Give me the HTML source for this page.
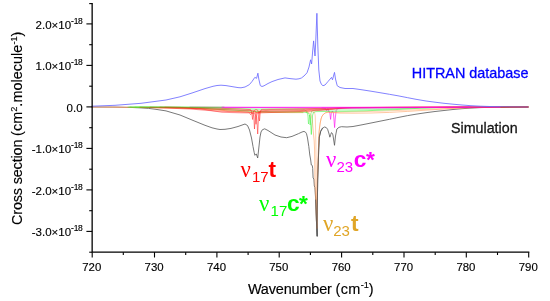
<!DOCTYPE html>
<html lang="en">
<head>
<meta charset="utf-8">
<title>Cross section vs wavenumber</title>
<style>
html,body{margin:0;padding:0;background:#fff;}
body{width:550px;height:301px;overflow:hidden;}
svg text{white-space:pre;}
</style>
</head>
<body>
<svg width="550" height="301" viewBox="0 0 550 301" style="display:block">
<rect width="550" height="301" fill="#fff"/>
<g fill="none" stroke-linejoin="round" stroke-linecap="round">
<path d="M92.0,107.0 L115.0,107.1 L130.0,107.4 L141.0,107.9 L148.5,108.4 L155.0,109.2 L166.0,110.9 L180.0,115.0 L192.0,120.0 L205.0,125.3 L212.0,127.8 L217.0,129.0 L220.0,129.5 L225.0,129.3 L231.0,128.4 L238.0,126.5 L245.0,124.0 L247.5,125.5 L249.5,130.0 L251.5,138.0 L253.0,146.5 L254.2,152.5 L254.9,155.3 L255.6,154.4 L256.3,154.0 L257.0,156.0 L257.7,158.0 L258.6,150.0 L260.0,137.0 L261.0,132.0 L262.3,129.8 L264.7,128.8 L268.0,130.5 L275.0,135.0 L281.0,137.0 L286.7,137.7 L292.0,136.4 L298.4,133.7 L302.0,132.0 L304.0,131.4 L305.5,132.2 L306.5,133.7 L307.5,138.0 L308.8,146.5 L309.8,155.0 L310.7,160.0 L311.3,165.0 L312.3,165.5 L312.7,168.5 L313.1,178.0 L313.9,179.0 L314.3,186.0 L314.9,187.5 L315.7,200.0 L316.4,220.0 L317.2,236.3 L317.1,225.0 L317.2,210.0 L317.4,200.0 L317.7,180.0 L318.2,165.0 L318.7,150.0 L319.3,137.0 L320.7,131.3 L322.5,128.2 L324.5,127.0 L326.3,127.6 L327.6,129.3 L328.8,133.0 L329.9,137.2 L330.7,134.5 L331.5,132.6 L332.2,133.2 L332.9,134.9 L333.7,140.0 L334.5,145.3 L335.5,136.0 L336.9,129.0 L339.0,127.3 L341.5,126.7 L347.0,127.0 L353.0,126.5 L362.0,124.8 L371.0,123.0 L380.0,121.2 L389.5,119.3 L398.0,117.5 L407.7,115.6 L416.0,114.2 L426.0,112.7 L435.0,111.5 L444.0,110.5 L453.0,109.5 L462.0,108.7 L471.0,108.1 L480.5,107.6 L495.0,107.2 L510.0,107.0 L528.0,107.0" stroke="#555555" stroke-width="0.8" opacity="1"/>
<path d="M190.0,107.2 L200.0,107.2 L280.0,107.6 L320.0,108.0 L325.5,108.4 L326.7,110.7 L327.6,108.8 L328.4,109.2 L329.0,112.0 L329.8,112.5 L330.6,119.4 L331.4,112.5 L332.5,111.0 L333.4,113.0 L334.0,120.0 L334.6,127.6 L335.3,118.0 L336.2,110.4 L337.5,108.8 L345.0,108.2 L380.0,107.8 L430.0,107.3 L528.0,107.0" stroke="#ff10f0" stroke-width="0.65" opacity="1"/>
<path d="M92.0,107.0 L120.0,107.2 L150.0,107.6 L200.0,108.6 L230.0,111.0 L250.0,112.2 L290.0,112.6 L303.0,112.6" stroke="#ff9955" stroke-width="0.8" opacity="1"/>
<path d="M306.0,112.3 L308.0,112.2 L309.5,113.0 L310.7,114.3 L311.6,116.5 L312.3,120.0 L312.8,126.0 L313.3,132.0 L314.2,141.0 L314.6,150.0 L314.8,165.0 L314.9,180.0 L315.7,200.0 L316.4,220.0 L316.8,229.0 L317.0,228.0 L317.0,220.0 L317.1,200.0 L317.4,180.0 L317.9,165.0 L318.4,150.0 L318.7,142.0 L319.1,132.0 L319.6,127.0 L320.2,123.0 L321.0,119.0 L322.0,116.2 L323.5,114.2 L325.3,112.9 L328.0,112.2 L333.0,112.6 L340.0,113.1 L353.0,113.2 L371.0,113.0 L389.5,112.4 L407.7,111.4 L426.0,110.2 L444.0,109.0 L462.0,108.0 L480.0,107.4 L528.0,107.0" stroke="#ff9955" stroke-width="0.55" opacity="1"/>
<path d="M200.0,108.3 L250.0,110.8 L290.0,111.2 L310.0,111.5 L314.4,112.3 L315.0,114.5 L315.3,117.0 L315.6,130.0 L315.9,147.0 L316.1,165.0 L316.2,180.0 L316.5,200.0 L316.7,220.0 L316.9,228.0 L317.0,228.0 L317.0,220.0 L317.1,200.0 L317.4,180.0 L317.9,165.0 L318.4,150.0 L318.7,142.0 L319.1,132.0 L319.6,127.0 L320.2,123.0 L321.0,119.0 L322.0,116.2 L323.5,114.2 L325.3,112.9 L328.0,112.2 L333.0,112.6 L345.0,112.0 L380.0,111.2 L420.0,109.6 L470.0,107.6 L528.0,107.0" stroke="#ff9955" stroke-width="0.5" opacity="0.9"/>
<path d="M315.7,200.0 L316.4,220.0 L317.2,236.3 L317.1,225.0 L317.2,210.0 L317.4,200.0 L317.7,180.0 L318.2,165.0 L318.7,150.0 L319.3,137.0 L320.7,131.3 L322.5,128.2" stroke="#555555" stroke-width="0.8" opacity="1"/>
<path d="M140.0,107.1 L200.0,107.4 L250.0,108.3 L305.0,108.6 L330.0,108.8 L380.0,108.4 L420.0,107.6 L528.0,107.0" stroke="#30ee30" stroke-width="0.45" opacity="0.6"/>
<path d="M135.0,107.1 L200.0,107.6 L245.0,109.0 L260.0,109.6 L304.0,109.8 L306.8,111.0 L307.8,116.0 L308.5,124.0 L309.2,115.0 L309.6,117.0 L310.1,125.0 L310.7,115.0 L311.6,111.0 L316.0,110.0 L350.0,110.0 L378.0,109.5 L400.0,108.6 L440.0,107.4 L528.0,107.0" stroke="#20f020" stroke-width="0.5" opacity="0.75"/>
<path d="M128.0,107.1 L160.0,107.3 L200.0,108.0 L240.0,110.5 L262.0,111.8 L300.0,112.0 L306.0,112.3 L308.6,113.5 L310.0,116.0 L310.7,124.0 L311.3,134.5 L311.9,124.0 L312.6,115.0 L313.6,112.3 L316.0,111.6 L345.0,111.3 L365.0,110.8 L380.0,110.2 L400.0,109.4 L420.0,108.2 L450.0,107.3 L528.0,107.0" stroke="#20f020" stroke-width="0.55" opacity="0.9"/>
<path d="M165.0,107.2 L180.0,107.4 L205.0,109.5 L222.0,112.3 L240.0,112.8 L249.0,112.9 L249.9,113.4 L250.6,114.8 L251.3,113.2 L254.6,113.2 L255.3,116.0 L256.0,124.3 L256.7,116.0 L257.4,113.0 L280.0,112.2 L300.0,111.5 L320.0,110.4 L332.0,109.4 L342.0,108.0 L355.0,107.6 L420.0,107.3 L528.0,107.0" stroke="#ff1010" stroke-width="0.5" opacity="0.9"/>
<path d="M140.0,107.3 L150.0,107.5 L190.0,109.0 L215.0,111.0 L235.0,111.8 L248.0,112.0 L252.9,113.0 L253.8,117.0 L254.5,129.0 L255.3,116.0 L256.3,112.5 L262.0,111.6 L280.0,111.2 L300.0,110.6 L320.0,109.8 L332.0,109.0 L340.0,108.0 L350.0,107.6 L430.0,107.3 L528.0,107.0" stroke="#ff1010" stroke-width="0.5" opacity="0.95"/>
<path d="M150.0,107.2 L160.0,107.3 L200.0,108.5 L225.0,109.8 L250.0,110.4 L255.6,111.5 L256.8,118.0 L257.7,134.0 L258.6,117.0 L259.8,111.0 L270.0,110.2 L300.0,109.8 L325.0,109.0 L338.0,107.9 L350.0,107.5 L400.0,107.3 L528.0,107.0" stroke="#ff1010" stroke-width="0.5" opacity="0.95"/>
<path d="M160.0,107.2 L170.0,107.2 L210.0,108.0 L240.0,109.0 L250.6,109.6 L251.6,112.0 L252.6,119.5 L253.5,111.0 L256.0,109.5 L258.0,110.5 L258.8,114.5 L259.5,121.0 L260.3,112.0 L261.5,109.4 L290.0,109.0 L320.0,108.4 L335.0,107.7 L400.0,107.3 L528.0,107.0" stroke="#ff1010" stroke-width="0.5" opacity="0.95"/>
<path d="M130.0,107.0 L180.0,107.0 L224.0,107.2" stroke="#40e020" stroke-width="0.7" opacity="0.9"/>
<path d="M222.0,107.3 L230.0,107.3 L300.0,107.3 L360.0,107.3 L420.0,107.2 L500.0,107.1" stroke="#ff10f0" stroke-width="0.85" opacity="0.95"/>
<path d="M322.0,107.9 L360.0,107.9 L420.0,107.6 L470.0,107.2" stroke="#ff10f0" stroke-width="0.7" opacity="0.9"/>
<path d="M92.0,106.2 L115.0,105.3 L141.0,103.3 L166.0,100.0 L180.0,96.8 L192.0,93.0 L205.0,88.6 L213.0,86.3 L217.0,85.5 L221.0,85.2 L226.0,85.6 L232.0,86.6 L238.0,87.6 L241.0,87.8 L245.0,87.0 L249.3,84.7 L252.0,81.5 L254.8,77.4 L256.6,78.3 L257.9,73.2 L258.8,79.0 L260.3,85.6 L262.0,86.5 L264.0,85.8 L268.0,83.5 L272.0,81.6 L278.0,79.5 L285.0,77.9 L290.0,78.6 L296.0,79.2 L299.0,78.8 L301.4,78.0 L304.0,76.0 L307.0,72.8 L309.0,67.0 L310.6,59.8 L311.6,64.0 L312.6,52.0 L313.6,40.9 L314.4,50.0 L315.0,56.0 L315.8,40.0 L316.9,13.3 L317.8,45.0 L318.8,70.0 L320.0,81.0 L321.5,84.5 L323.0,85.7 L325.0,85.0 L328.0,81.5 L331.5,77.4 L332.5,79.8 L333.5,76.0 L334.5,72.4 L335.5,79.0 L337.2,85.7 L340.0,87.5 L345.0,88.5 L353.0,88.5 L362.0,89.8 L371.0,91.2 L380.0,92.7 L389.5,94.3 L398.0,95.8 L407.7,97.7 L416.0,99.3 L426.0,101.0 L435.0,102.2 L444.0,103.3 L453.0,104.2 L462.0,105.0 L471.0,105.7 L480.5,106.2 L495.0,106.7 L510.0,106.9 L528.0,107.0" stroke="#6c6cff" stroke-width="0.85" opacity="1"/>
</g>
<g stroke="#000" stroke-width="1.3" fill="none" stroke-linecap="square">
<path d="M92.15,3.6 V252.2 H528.7"/>
</g>
<g stroke="#000" stroke-width="1.1" fill="none">
<path d="M89.2,3.6 H92.2"/>
<path d="M86.4,23.9 H92.2"/>
<path d="M89.2,44.7 H92.2"/>
<path d="M86.4,65.4 H92.2"/>
<path d="M89.2,86.2 H92.2"/>
<path d="M86.4,106.9 H92.2"/>
<path d="M89.2,127.7 H92.2"/>
<path d="M86.4,148.4 H92.2"/>
<path d="M89.2,169.2 H92.2"/>
<path d="M86.4,189.9 H92.2"/>
<path d="M89.2,210.7 H92.2"/>
<path d="M86.4,231.4 H92.2"/>
<path d="M89.2,252.2 H92.2"/>
<path d="M92.2,252.2 V257.5"/>
<path d="M123.3,252.2 V255.0"/>
<path d="M154.5,252.2 V257.5"/>
<path d="M185.7,252.2 V255.0"/>
<path d="M216.9,252.2 V257.5"/>
<path d="M248.1,252.2 V255.0"/>
<path d="M279.2,252.2 V257.5"/>
<path d="M310.4,252.2 V255.0"/>
<path d="M341.6,252.2 V257.5"/>
<path d="M372.8,252.2 V255.0"/>
<path d="M404.0,252.2 V257.5"/>
<path d="M435.2,252.2 V255.0"/>
<path d="M466.3,252.2 V257.5"/>
<path d="M497.5,252.2 V255.0"/>
<path d="M528.7,252.2 V257.5"/>
</g>
<g font-family="'Liberation Sans', Arial, sans-serif" fill="#000" stroke="#000" stroke-width="0.15">
<text x="91.8" y="270.7" font-size="11.4" text-anchor="middle">720</text>
<text x="154.1" y="270.7" font-size="11.4" text-anchor="middle">730</text>
<text x="216.5" y="270.7" font-size="11.4" text-anchor="middle">740</text>
<text x="278.8" y="270.7" font-size="11.4" text-anchor="middle">750</text>
<text x="341.2" y="270.7" font-size="11.4" text-anchor="middle">760</text>
<text x="403.6" y="270.7" font-size="11.4" text-anchor="middle">770</text>
<text x="465.9" y="270.7" font-size="11.4" text-anchor="middle">780</text>
<text x="528.3" y="270.7" font-size="11.4" text-anchor="middle">790</text>
<text x="82.6" y="28.7" font-size="11.5" text-anchor="end">2.0×10<tspan font-size="8.5" letter-spacing="-0.25" dy="-5.0">-18</tspan></text>
<text x="82.6" y="70.2" font-size="11.5" text-anchor="end">1.0×10<tspan font-size="8.5" letter-spacing="-0.25" dy="-5.0">-18</tspan></text>
<text x="82.6" y="111.7" font-size="11.5" text-anchor="end">0.0</text>
<text x="82.6" y="153.2" font-size="11.5" text-anchor="end">-1.0×10<tspan font-size="8.5" letter-spacing="-0.25" dy="-5.0">-18</tspan></text>
<text x="82.6" y="194.7" font-size="11.5" text-anchor="end">-2.0×10<tspan font-size="8.5" letter-spacing="-0.25" dy="-5.0">-18</tspan></text>
<text x="82.6" y="236.2" font-size="11.5" text-anchor="end">-3.0×10<tspan font-size="8.5" letter-spacing="-0.25" dy="-5.0">-18</tspan></text>
<text x="247.9" y="294.2" font-size="14.45"><tspan letter-spacing="-0.15">Wavenumber </tspan><tspan letter-spacing="0.35">(cm</tspan><tspan font-size="9.2" dy="-5.9">-1</tspan><tspan dy="5.9">)</tspan></text>
<text transform="translate(21.5,128.3) rotate(-90)" font-size="14.4" text-anchor="middle"><tspan letter-spacing="-0.15">Cross section </tspan><tspan letter-spacing="0.05">(cm</tspan><tspan font-size="9.2" dy="-4.7">2</tspan><tspan dy="4.7" letter-spacing="0.05">.molecule</tspan><tspan font-size="9.2" dy="-4.7">-1</tspan><tspan dy="4.7">)</tspan></text>
<text transform="translate(411.8,78.3) scale(0.96,1)" font-size="15" fill="#0000ff" stroke="#0000ff" stroke-width="0.3">HITRAN database</text>
<text transform="translate(451,133.3) scale(0.965,1)" font-size="14.8" fill="#151515" stroke="#151515" stroke-width="0.3">Simulation</text>
</g>
<g fill="#ff0000"><text transform="translate(240.4,177.2) scale(0.98,1)" font-family="'Liberation Serif', 'DejaVu Serif', serif" font-size="23.3">ν</text><text x="251.9" y="182.2" font-family="'Liberation Sans', Arial, sans-serif" font-size="15">17</text><text x="268.4" y="177.2" font-family="'Liberation Sans', Arial, sans-serif" font-weight="bold" font-size="22.7" letter-spacing="0">t</text></g>
<g fill="#ff00ff"><text transform="translate(326.1,166.5) scale(0.98,1)" font-family="'Liberation Serif', 'DejaVu Serif', serif" font-size="23.3">ν</text><text x="336.4" y="171.5" font-family="'Liberation Sans', Arial, sans-serif" font-size="15">23</text><text x="353.8" y="166.5" font-family="'Liberation Sans', Arial, sans-serif" font-weight="bold" font-size="22.7" letter-spacing="-0.4">c*</text></g>
<g fill="#00ff00"><text transform="translate(259.1,211.2) scale(0.98,1)" font-family="'Liberation Serif', 'DejaVu Serif', serif" font-size="23.3">ν</text><text x="270.6" y="216.2" font-family="'Liberation Sans', Arial, sans-serif" font-size="15">17</text><text x="286.9" y="211.2" font-family="'Liberation Sans', Arial, sans-serif" font-weight="bold" font-size="22.7" letter-spacing="-0.4">c*</text></g>
<g fill="#e0a526"><text transform="translate(322.9,230.6) scale(0.98,1)" font-family="'Liberation Serif', 'DejaVu Serif', serif" font-size="23.3">ν</text><text x="333.2" y="235.9" font-family="'Liberation Sans', Arial, sans-serif" font-size="15">23</text><text x="350.9" y="230.6" font-family="'Liberation Sans', Arial, sans-serif" font-weight="bold" font-size="22.7" letter-spacing="0">t</text></g>
</svg>
</body>
</html>
